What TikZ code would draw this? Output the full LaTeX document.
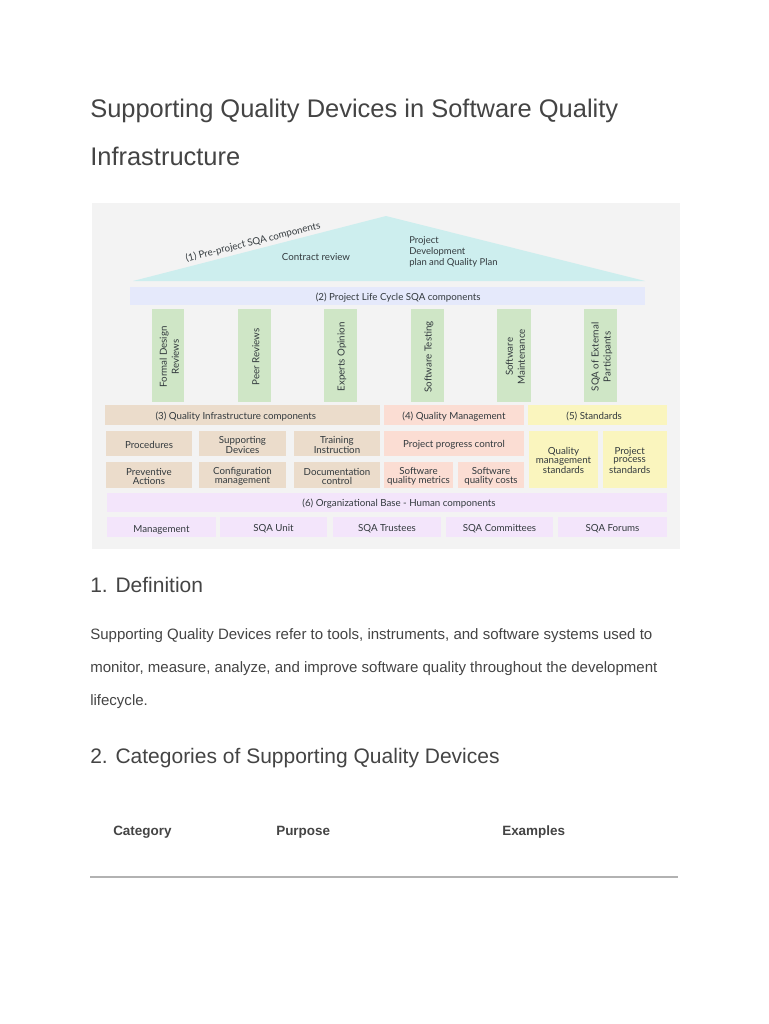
\documentclass[tikz,border=0pt]{standalone}
\usepackage{fontspec}
\setmainfont{Liberation Sans}
\newfontfamily\chartfont{Lato}
\definecolor{PageText}{HTML}{444444}
\definecolor{ChartText}{HTML}{333A3E}
\definecolor{ChartGrey}{HTML}{F3F3F3}
\definecolor{RoofTeal}{HTML}{CDEEEE}
\definecolor{BandBlue}{HTML}{E5E9FB}
\definecolor{PillarGreen}{HTML}{CFE6C6}
\definecolor{InfraTan}{HTML}{EBDCCB}
\definecolor{MgmtPink}{HTML}{FBDDD3}
\definecolor{StdYellow}{HTML}{FAF5BE}
\definecolor{BaseLilac}{HTML}{F3E5FB}
\tikzset{
  lbl/.style={font=\chartfont\fontsize{7.3}{7.1}\selectfont, text=ChartText, align=center, inner sep=0pt, yshift=-1pt},
  tightlbl/.style={lbl, font=\chartfont\fontsize{7.3}{6.4}\selectfont},
  uplbl/.style={lbl, rotate=90, yshift=-1pt, font=\chartfont\fontsize{7.3}{9}\selectfont},
  heading/.style={anchor=base west, inner sep=0pt, text=PageText, font=\fontsize{19.1}{24}\selectfont},
  subheading/.style={anchor=base west, inner sep=0pt, text=PageText, font=\fontsize{15.75}{20}\selectfont},
  bodytext/.style={anchor=base west, inner sep=0pt, text=PageText, font=\fontsize{11.27}{14}\selectfont},
  colhead/.style={anchor=base west, inner sep=0pt, text=PageText, font=\bfseries\fontsize{10.1}{13}\selectfont}
}
\begin{document}
\begin{tikzpicture}[x=0.75pt,y=-0.75pt]
        \useasboundingbox (0,0) rectangle (768,1024);
        \fill[white] (0,0) rectangle (768,1024);

        \node[heading] (title1) at (90,117.5){Supporting Quality Devices in Software Quality};
        \node[heading] (title2) at (90,165.5){Infrastructure};

        \fill[ChartGrey] (92,203) rectangle (680,549);

        % roof
        \coordinate (RoofL) at (133,281);
        \coordinate (RoofT) at (386,216);
        \coordinate (RoofR) at (645,281);
        \fill[RoofTeal] (RoofL) -- (RoofT) -- (RoofR) -- cycle;
        \node[lbl, rotate=14] (preproject) at (253,241){(1) Pre-project SQA components};
        \node[lbl] (contract) at (316,255.5){Contract review};
        \node[lbl, align=left, anchor=west, font=\chartfont\fontsize{7.1}{8.25}\selectfont] (plan) at (409,251){Project\\Development\\plan and Quality Plan};

        \fill[BandBlue] (130,287) rectangle node[lbl, xshift=8pt] (lifecycle) {(2) Project Life Cycle SQA components} (645,305);

        % pillars
        \fill[PillarGreen] (152,309) rectangle node[uplbl] (formal) {Formal Design\\Reviews} (184,402);
        \fill[PillarGreen] (238,309) rectangle node[uplbl] (peer) {Peer Reviews} (271,402);
        \fill[PillarGreen] (324,309) rectangle node[uplbl] (experts) {Experts Opinion} (357,402);
        \fill[PillarGreen] (411,309) rectangle node[uplbl] (testing) {Software Testing} (444,402);
        \fill[PillarGreen] (497,309) rectangle node[uplbl] (maint) {Software\\Maintenance} (531,402);
        \fill[PillarGreen] (584,309) rectangle node[uplbl] (external) {SQA of External\\Participants} (617,402);

        % quality infrastructure
        \fill[InfraTan] (105,405) rectangle node[lbl, xshift=-5pt] (infra) {(3) Quality Infrastructure components} (380,425);
        \fill[InfraTan] (106,431) rectangle node[lbl] (proc) {Procedures} (192,456);
        \fill[InfraTan] (199,431) rectangle node[lbl] (devices) {Supporting\\Devices} (286,456);
        \fill[InfraTan] (294,431) rectangle node[lbl] (training) {Training\\Instruction} (380,456);
        \fill[InfraTan] (106,462) rectangle node[lbl] (prevent) {Preventive\\Actions} (192,488);
        \fill[InfraTan] (199,462) rectangle node[lbl] (config) {Configuration\\management} (286,488);
        \fill[InfraTan] (294,462) rectangle node[lbl] (docs) {Documentation\\control} (380,488);

        % quality management
        \fill[MgmtPink] (384,405) rectangle node[lbl] (mgmt) {(4) Quality Management} (524,425);
        \fill[MgmtPink] (384,431) rectangle node[lbl] (progress) {Project progress control} (524,456);
        \fill[MgmtPink] (384,462) rectangle node[lbl] (metrics) {Software\\quality metrics} (453,488);
        \fill[MgmtPink] (458,462) rectangle node[lbl] (costs) {Software\\quality costs} (524,488);

        % standards
        \fill[StdYellow] (528,405) rectangle node[lbl, xshift=-2.5pt] (standards) {(5) Standards} (667,425);
        \fill[StdYellow] (529,431) rectangle node[tightlbl] (qualstd) {Quality\\management\\standards} (598,488);
        \fill[StdYellow] (603,431) rectangle node[tightlbl, xshift=-4pt, yshift=0.5pt] (procstd) {Project\\process\\standards} (667,488);

        % base
        \fill[BaseLilac] (107,493) rectangle node[lbl, xshift=9pt] (orgbase) {(6) Organizational Base - Human components} (667,512);
        \fill[BaseLilac] (107,517) rectangle node[lbl, yshift=-1pt] (management) {Management} (216,537);
        \fill[BaseLilac] (220,517) rectangle node[lbl] (unit) {SQA Unit} (327,537);
        \fill[BaseLilac] (333,517) rectangle node[lbl] (trustees) {SQA Trustees} (441,537);
        \fill[BaseLilac] (446,517) rectangle node[lbl] (committees) {SQA Committees} (553,537);
        \fill[BaseLilac] (558,517) rectangle node[lbl] (forums) {SQA Forums} (667,537);

        \node[subheading] (defhead) at (90,592.5){1. Definition};
        \node[bodytext] (def1) at (90,639){Supporting Quality Devices refer to tools, instruments, and software systems used to};
        \node[bodytext] (def2) at (90,672){monitor, measure, analyze, and improve software quality throughout the development};
        \node[bodytext] (def3) at (90,705){lifecycle.};
        \node[subheading] (cathead) at (90,763.5){2. Categories of Supporting Quality Devices};

        \node[colhead] (category) at (113,835){Category};
        \node[colhead] (purpose) at (276,835){Purpose};
        \node[colhead] (examples) at (502,835){Examples};
        \draw[color=black!30, line width=0.9pt] (90,877) -- (678,877);
\end{tikzpicture}
\end{document}
